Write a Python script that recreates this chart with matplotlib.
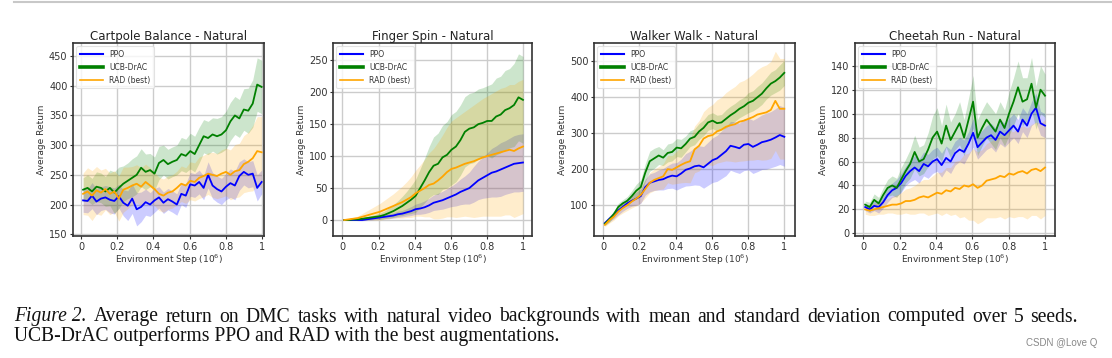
import numpy as np
import matplotlib
matplotlib.use("Agg")
import matplotlib.pyplot as plt
from matplotlib.lines import Line2D

# ---- data ----
steps = np.linspace(0.01, 1.0, 41)  # environment step (1e6)
labels = ["PPO", "UCB-DrAC", "RAD (best)"]
titles = ["Cartpole Balance - Natural", "Finger Spin - Natural",
          "Walker Walk - Natural", "Cheetah Run - Natural"]

# Cartpole Balance
cart_ppo = [207, 206, 215, 205, 210, 212, 208, 206, 214, 203, 198, 210, 192, 196, 204, 200, 207, 212, 203, 209,
            205, 200, 218, 215, 234, 232, 238, 228, 250, 232, 226, 222, 230, 236, 232, 248, 255, 250, 252, 228, 238]
cart_ppo_sd = [20, 20, 22, 22, 20, 20, 22, 22, 20, 22, 25, 25, 28, 25, 22, 20, 20, 18, 18, 18,
               18, 18, 18, 20, 20, 20, 20, 20, 22, 22, 22, 22, 22, 24, 24, 24, 22, 22, 22, 22, 20]
cart_ucb = [225, 228, 222, 230, 228, 222, 228, 220, 228, 235, 240, 245, 250, 262, 255, 258, 252, 270, 275, 268,
            272, 275, 285, 282, 290, 285, 300, 315, 312, 318, 315, 318, 325, 340, 350, 345, 360, 358, 370, 402, 398]
cart_ucb_sd = [20, 22, 22, 25, 25, 25, 30, 35, 35, 30, 30, 32, 32, 32, 30, 28, 28, 28, 25, 25,
               25, 25, 28, 28, 30, 30, 30, 28, 28, 28, 30, 30, 32, 32, 32, 32, 35, 38, 40, 45, 45]
cart_rad = [218, 222, 215, 224, 220, 226, 218, 222, 210, 225, 228, 232, 235, 230, 238, 232, 226, 218, 215, 220,
            222, 228, 235, 232, 240, 238, 245, 248, 252, 250, 248, 252, 255, 250, 256, 258, 268, 272, 278, 290, 288]
cart_rad_sd = [35, 40, 42, 40, 38, 35, 35, 35, 38, 38, 35, 32, 32, 32, 30, 30, 28, 28, 28, 28,
               28, 28, 30, 30, 32, 32, 35, 35, 35, 38, 38, 40, 40, 42, 45, 45, 48, 50, 55, 58, 60]

# Finger Spin
fing_ppo = [0, 0, 0, 0, 0, 1, 2, 3, 4, 5, 6, 7, 9, 10, 12, 14, 17, 18, 20, 23,
            27, 29, 31, 34, 37, 40, 44, 47, 50, 56, 62, 66, 70, 74, 76, 79, 82, 85, 88, 89, 90]
fing_ppo_sd = [0, 0, 0, 1, 1, 1, 2, 2, 3, 3, 4, 4, 5, 5, 6, 7, 8, 9, 10, 11,
               12, 13, 14, 15, 16, 18, 20, 22, 25, 28, 30, 32, 35, 38, 40, 42, 42, 43, 44, 45, 45]
fing_ucb = [0, 0, 1, 1, 2, 3, 4, 5, 6, 8, 11, 14, 18, 22, 27, 32, 38, 50, 62, 75,
            85, 88, 98, 102, 110, 115, 125, 138, 143, 145, 150, 152, 155, 155, 162, 165, 172, 175, 180, 192, 188]
fing_ucb_sd = [0, 0, 1, 1, 2, 2, 3, 4, 5, 6, 8, 10, 12, 15, 18, 22, 26, 30, 35, 40,
               45, 48, 50, 52, 55, 55, 55, 55, 55, 55, 55, 55, 55, 58, 60, 60, 62, 62, 65, 68, 68]
fing_rad = [0, 1, 2, 3, 5, 7, 9, 11, 13, 16, 19, 22, 25, 28, 32, 36, 42, 46, 50, 55,
            57, 62, 68, 75, 80, 82, 85, 88, 90, 92, 95, 98, 100, 102, 104, 106, 108, 110, 108, 112, 115]
fing_rad_sd = [0, 1, 2, 3, 5, 7, 9, 11, 13, 15, 17, 19, 22, 25, 28, 32, 36, 40, 45, 50,
               55, 60, 65, 70, 75, 78, 80, 82, 85, 88, 90, 92, 94, 96, 98, 100, 100, 102, 104, 105, 105]

# Walker Walk
walk_ppo = [50, 62, 72, 85, 95, 105, 112, 118, 125, 150, 162, 166, 170, 172, 178, 182, 180, 188, 198, 202,
            208, 210, 205, 215, 225, 230, 240, 250, 265, 262, 258, 268, 270, 262, 268, 275, 278, 282, 288, 295, 290]
walk_ppo_sd = [5, 8, 10, 12, 12, 14, 15, 18, 20, 22, 25, 25, 28, 30, 32, 35, 38, 40, 45, 48,
               52, 55, 58, 60, 62, 64, 66, 68, 68, 70, 70, 72, 72, 74, 75, 76, 78, 78, 80, 82, 82]
walk_ucb = [48, 60, 75, 95, 105, 112, 125, 140, 150, 190, 222, 230, 238, 232, 245, 248, 260, 258, 270, 285,
            290, 305, 315, 330, 335, 328, 330, 340, 350, 358, 368, 375, 385, 390, 400, 410, 425, 438, 445, 455, 468]
walk_ucb_sd = [5, 8, 8, 10, 10, 12, 15, 18, 20, 25, 28, 28, 25, 22, 25, 25, 25, 25, 22, 22,
               22, 22, 22, 22, 22, 22, 22, 25, 25, 25, 25, 25, 28, 28, 30, 30, 30, 32, 32, 35, 35]
walk_rad = [45, 58, 68, 82, 92, 100, 110, 118, 128, 145, 162, 170, 175, 180, 200, 198, 205, 212, 218, 222,
            255, 265, 285, 292, 295, 305, 310, 318, 322, 325, 332, 335, 340, 345, 352, 355, 358, 365, 390, 368, 368]
walk_rad_sd = [5, 8, 10, 12, 14, 15, 18, 20, 22, 25, 28, 30, 32, 35, 38, 40, 45, 50, 55, 60,
               65, 70, 75, 80, 85, 88, 90, 95, 100, 105, 110, 112, 115, 120, 125, 130, 132, 135, 138, 140, 140]

# Cheetah Run
chee_ppo = [22, 20, 23, 22, 26, 32, 36, 38, 42, 48, 52, 55, 52, 58, 56, 60, 62, 57, 63, 60,
            67, 70, 68, 75, 84, 72, 76, 80, 82, 78, 85, 82, 86, 90, 85, 95, 90, 100, 105, 92, 90]
chee_ppo_sd = [3, 3, 4, 5, 5, 6, 6, 7, 8, 8, 9, 10, 10, 10, 10, 10, 10, 10, 10, 10,
               10, 10, 10, 10, 12, 10, 10, 10, 10, 10, 10, 10, 10, 10, 10, 10, 10, 10, 12, 10, 10]
chee_ucb = [24, 22, 28, 25, 32, 38, 40, 38, 45, 52, 58, 68, 60, 62, 70, 80, 85, 75, 90, 78,
            85, 92, 80, 95, 110, 80, 88, 95, 90, 85, 95, 88, 100, 110, 122, 110, 112, 125, 105, 120, 115]
chee_ucb_sd = [3, 4, 5, 5, 6, 7, 8, 8, 10, 10, 12, 14, 12, 12, 14, 18, 20, 15, 18, 15,
               15, 18, 15, 18, 22, 15, 15, 15, 15, 15, 15, 15, 18, 20, 22, 20, 18, 22, 18, 20, 18]
chee_rad = [20, 19, 20, 21, 22, 23, 24, 24, 25, 27, 27, 28, 30, 31, 30, 32, 34, 33, 36, 35,
            38, 37, 40, 39, 41, 38, 40, 44, 45, 46, 48, 47, 50, 49, 51, 52, 50, 53, 54, 52, 55]
chee_rad_sd = [4, 4, 5, 5, 6, 6, 7, 8, 9, 10, 11, 12, 13, 14, 15, 16, 17, 18, 19, 20,
               22, 24, 26, 28, 30, 30, 30, 31, 32, 33, 34, 35, 36, 36, 37, 38, 38, 38, 39, 40, 40]

yticks = [[150, 200, 250, 300, 350, 400, 450],
          [0, 50, 100, 150, 200, 250],
          [100, 200, 300, 400, 500],
          [0, 20, 40, 60, 80, 100, 120, 140]]

caption1 = ("Average return on DMC tasks with natural video backgrounds with mean and "
            "standard deviation computed over 5 seeds.")
caption2 = "UCB-DrAC outperforms PPO and RAD with the best augmentations."

# ---- layout ----
W, H = 1112, 358
panels = [
    dict(box=(73, 43, 264, 236), xlim=(-0.046, 1.013), ylim=(147, 472),
         series=[(cart_ppo, cart_ppo_sd), (cart_ucb, cart_ucb_sd), (cart_rad, cart_rad_sd)]),
    dict(box=(333, 43, 532, 236), xlim=(-0.052, 1.05), ylim=(-25, 277),
         series=[(fing_ppo, fing_ppo_sd), (fing_ucb, fing_ucb_sd), (fing_rad, fing_rad_sd)]),
    dict(box=(594, 43, 795, 236), xlim=(-0.05, 1.059), ylim=(14, 551),
         series=[(walk_ppo, walk_ppo_sd), (walk_ucb, walk_ucb_sd), (walk_rad, walk_rad_sd)]),
    dict(box=(855, 43, 1055, 236), xlim=(-0.046, 1.055), ylim=(-2.2, 159),
         series=[(chee_ppo, chee_ppo_sd), (chee_ucb, chee_ucb_sd), (chee_rad, chee_rad_sd)]),
]
colors = ["blue", "green", "orange"]
legend_lw = [1.5, 2.6, 1.2]

fig = plt.figure(figsize=(W / 100, H / 100), dpi=100)
fig.patch.set_facecolor("white")

for n, p in enumerate(panels):
    x0, y0, x1, y1 = p["box"]
    ax = fig.add_axes([x0 / W, 1 - y1 / H, (x1 - x0) / W, (y1 - y0) / H])
    for (mean, sd), c in zip(p["series"], colors):
        mean = np.array(mean, float)
        sd = np.array(sd, float)
        ax.fill_between(steps, mean - sd, mean + sd, color=c, alpha=0.2, lw=0)
        ax.plot(steps, mean, color=c, lw=1.3)
    ax.set_xlim(p["xlim"])
    ax.set_ylim(p["ylim"])
    ax.set_xticks([0, 0.2, 0.4, 0.6, 0.8, 1])
    ax.set_xticklabels(["0", "0.2", "0.4", "0.6", "0.8", "1"])
    ax.set_yticks(yticks[n])
    ax.grid(True, color="#cccccc", lw=1.0)
    ax.set_axisbelow(True)
    for s in ax.spines.values():
        s.set_color("#333333")
        s.set_linewidth(1.2)
    ax.tick_params(labelsize=7, colors="#333333", length=2.5, width=0.8, pad=1.5)
    ax.set_title(titles[n], fontsize=8.5, color="#222222", pad=2)
    ax.set_xlabel("Environment Step (10$^6$)", fontsize=6.5, color="#333333", labelpad=1)
    ax.set_ylabel("Average Return", fontsize=6.5, color="#333333", labelpad=2)
    handles = [Line2D([], [], color=c, lw=w) for c, w in zip(colors, legend_lw)]
    leg = ax.legend(handles, labels, loc="upper left", fontsize=5.5, frameon=True,
                    handlelength=3, borderpad=0.5, labelspacing=0.5, borderaxespad=0.4)
    leg.get_frame().set_edgecolor("#dddddd")
    leg.get_frame().set_linewidth(0.8)
    for t in leg.get_texts():
        t.set_color("#333333")

# thin rule at the very top
fig.add_artist(Line2D([14 / W, 1.0], [1 - 1.5 / H, 1 - 1.5 / H], color="#c8c8c8", lw=1.5))

# caption: first line justified between x=14 and x=1078, second line ragged
fs = 14.1
cap_x0, cap_x1 = 14, 1078
base1, base2 = 321.5, 340.5
renderer = fig.canvas.get_renderer()
words = [("Figure 2.", "italic")] + [(w, "normal") for w in caption1.split()]
texts, widths = [], []
for w, st in words:
    t = fig.text(0, 1 - base1 / H, w, family="Liberation Serif", style=st,
                 fontsize=fs, color="#111111", va="baseline")
    texts.append(t)
    widths.append(t.get_window_extent(renderer).width)
gap = (cap_x1 - cap_x0 - sum(widths)) / (len(words) - 1)
xpos = cap_x0
for t, wd in zip(texts, widths):
    t.set_x(xpos / W)
    xpos += wd + gap
fig.text(cap_x0 / W, 1 - base2 / H, caption2, family="Liberation Serif",
         fontsize=fs, color="#111111", va="baseline")
fig.text(1097 / W, 1 - 346 / H, "CSDN @Love Q", family="Liberation Sans",
         fontsize=7, color="#888888", ha="right", va="baseline")

fig.savefig("out.png", dpi=100)
